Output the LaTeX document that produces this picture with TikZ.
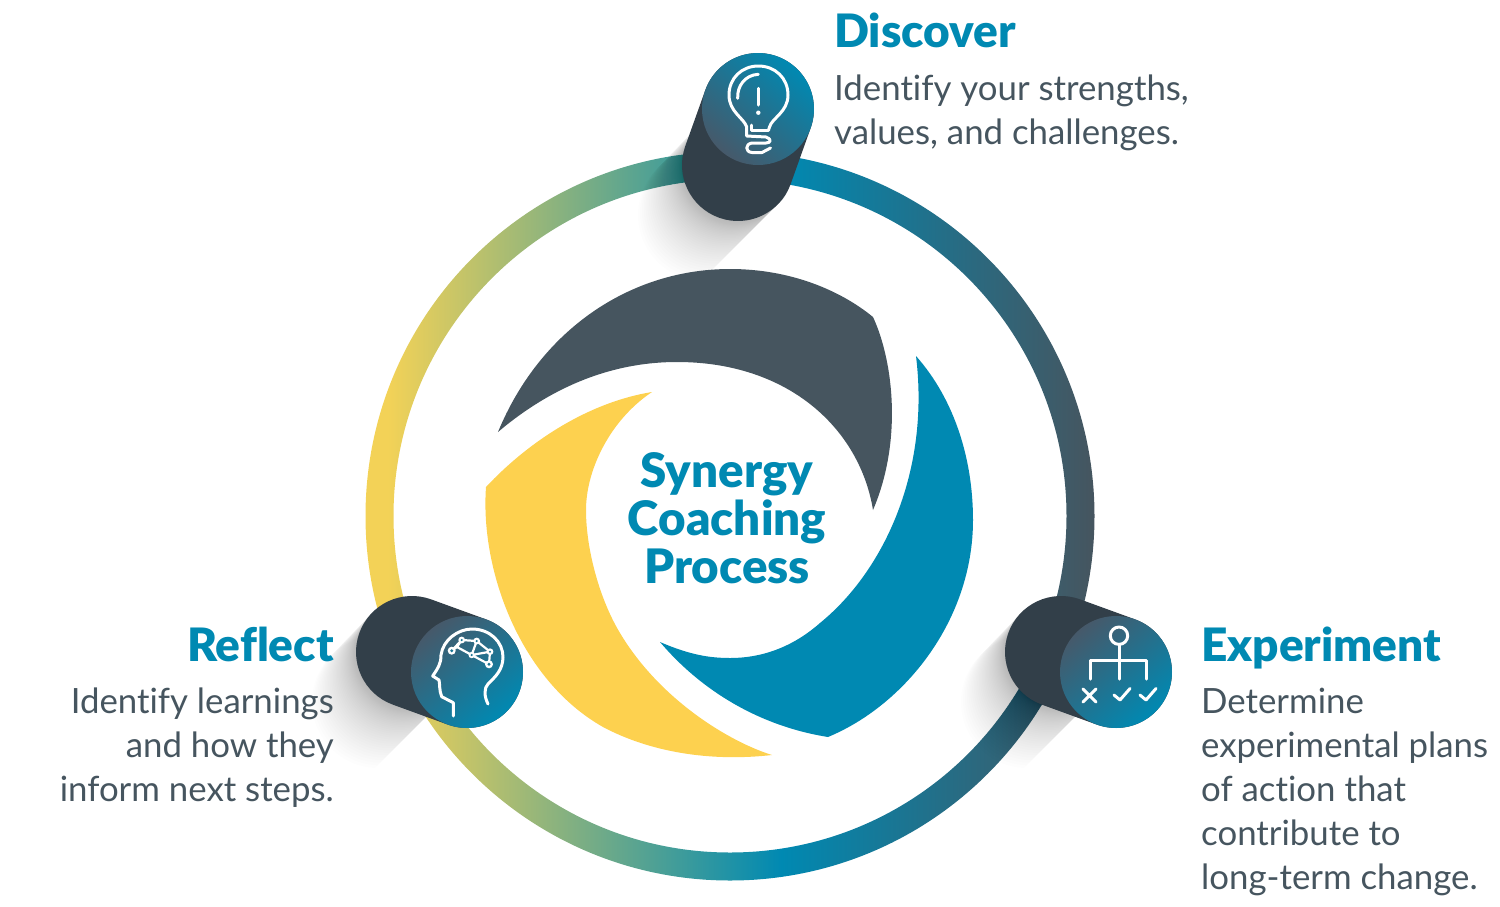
\documentclass[tikz,border=0pt]{standalone}
\usepackage{fontspec}
\setmainfont{Lato}[BoldFont={Lato Black},Ligatures={NoCommon}]
\definecolor{brandblue}{HTML}{0089B2}
\definecolor{slate}{HTML}{46555F}
\definecolor{cyl}{HTML}{323F49}
\definecolor{sunny}{HTML}{FDD14F}
\definecolor{ringyellow}{HTML}{F3D257}
\definecolor{discdark}{HTML}{46596A}
\pgfdeclarehorizontalshading{ringshade}{100bp}{color(0bp)=(ringyellow); color(26.5bp)=(ringyellow); color(53.5bp)=(brandblue); color(75bp)=(slate); color(100bp)=(slate)}
\newcommand\longshadow[2]{%
  \begin{scope}
  \clip ({#1+39.6+212},{#2+39.6-212}) -- ({#1+39.6-212},{#2+39.6+212}) -- ({#1-300},{#2-300}) -- cycle;
  \foreach \k in {1,...,40}{%
    \pgfmathsetmacro\ff{(\k/40)^1.8}%
    \fill[black,opacity=.0095] ({#1-34*\ff},{#2+50*\ff}) circle ({56+10*\ff});
  }
  \end{scope}}
\tikzset{
  cylbody/.style={draw=cyl,line cap=round,line width=112pt},
  icon/.style={draw=white,line width=3pt,line cap=round,line join=round},
  heading/.style={font=\fontsize{46}{46}\selectfont\bfseries,text=brandblue,inner sep=0pt},
  body/.style={font=\fontsize{34.8}{44}\selectfont,text=slate,inner sep=0pt},
}
\begin{document}
\begin{tikzpicture}[x=1pt,y=-1pt]
\useasboundingbox (0,0) rectangle (1500,906);
% ring
\shade[shading=ringshade,even odd rule] (730,516) circle (364.5) (730,516) circle (336.5);
% shadows
\longshadow{738}{165}
\longshadow{412}{652}
\longshadow{1061}{652}
% swirl
\fill[slate] (498,432) .. controls (540,330) and (630,269) .. (730,269)
  .. controls (790,269) and (840,290) .. (873,317)
  .. controls (893,360) and (903,440) .. (873,510)
  .. controls (860,430) and (790,362) .. (677,362)
  .. controls (610,362) and (550,388) .. (498,432) -- cycle;
\fill[sunny] (652,392) .. controls (590,402) and (530,440) .. (486,487)
  .. controls (480,570) and (520,680) .. (603,727)
  .. controls (650,752) and (710,762) .. (772,755)
  .. controls (730,742) and (660,700) .. (620,633)
  .. controls (600,600) and (586,550) .. (586,510)
  .. controls (586,470) and (610,420) .. (652,392) -- cycle;
\fill[brandblue] (916,356) .. controls (955,400) and (973,460) .. (973,520)
  .. controls (973,620) and (905,705) .. (828,737)
  .. controls (765,727) and (705,695) .. (660,642)
  .. controls (690,655) and (710,658) .. (730,658)
  .. controls (765,658) and (795,645) .. (820,623)
  .. controls (885,570) and (930,470) .. (916,356) -- cycle;
% cylinders
\draw[cylbody] (738,165) -- (758,109);
\draw[cylbody] (412,652) -- (467,672);
\draw[cylbody] (1061,652) -- (1116,672);
% discs
\shade[top color=brandblue,bottom color=discdark,shading angle=-40] (758,109) circle (56);
\shade[top color=discdark,bottom color=brandblue,shading angle=40] (467,672) circle (56);
\shade[top color=discdark,bottom color=brandblue,shading angle=40] (1116,672) circle (56);
% bulb icon
\draw[icon] (746.7,130) -- (746.7,127) .. controls (744,118) and (729,112) .. (729,95)
  .. controls (729,78) and (742,66) .. (758.3,66)
  .. controls (775,66) and (788,78) .. (788,95)
  .. controls (788,112) and (772,118) .. (769.5,127) -- (768.5,130);
\draw[icon] (751.7,125) -- (751.7,130) -- (768.5,130);
\draw[icon] (746.7,130) -- (746.7,136) -- (766,137)
  .. controls (772,139) and (771,143) .. (766,143) -- (752,143)
  .. controls (745,144) and (745,152) .. (752,152.5) -- (762,152.5) -- (770.5,148);
\draw[icon] (737.7,98.3) .. controls (737,86) and (745,75) .. (758.3,74.3);
\draw[icon] (758.3,88.3) -- (758.3,105);
\fill[white] (758.3,112.7) circle (2.2);
% brain icon
\draw[icon] (453.3,716) -- (453.3,702.7) -- (441.7,696.7)
  .. controls (439,690) and (440,684) .. (439,680) -- (432.7,676)
  .. controls (438,668) and (441,664) .. (441,655)
  .. controls (443,640) and (458,629) .. (472,629)
  .. controls (490,629) and (503,642) .. (503,657)
  .. controls (503,670) and (495,677) .. (488,684)
  .. controls (484,688) and (484,696) .. (488,704);
\coordinate (b1) at (451.7,650.7);
\coordinate (b2) at (461.7,640);
\coordinate (b3) at (476.7,641);
\coordinate (b4) at (490,651.7);
\coordinate (b5) at (489,664.3);
\coordinate (b6) at (471.7,655);
\coordinate (b7) at (457,647);
\draw[draw=white,line width=2.2pt] (b1) -- (b2) -- (b3) -- (b4) -- (b5) -- (b6) -- (b7) -- (b2)
  (b3) -- (b6) -- (b4) (b1) -- (b7);
\fill[white] (b1) circle (4) (b2) circle (3.4) (b3) circle (3.4) (b4) circle (3.4) (b5) circle (4) (b6) circle (3.2);
\fill[discdark!40!brandblue] (b1) circle (1.6) (b2) circle (1.2) (b3) circle (1.2) (b4) circle (1.2) (b5) circle (1.6) (b6) circle (1.2);
% chart icon
\draw[icon] (1119,635.7) circle (8.7);
\draw[icon] (1119,644.4) -- (1119,679);
\draw[icon] (1090.7,679) -- (1090.7,660) -- (1146.7,660) -- (1146.7,679);
\draw[icon] (1083,689) -- (1096,702) (1096,689) -- (1083,702);
\draw[icon] (1114,695) -- (1120,700) -- (1130,688.5);
\draw[icon] (1140,695) -- (1146,700) -- (1156,688.5);
% text
\node[heading,anchor=base west] (discoverhead) at (834,47) {Discover};
\node[body,anchor=north west,align=left] (discovertext) at (834,75) {Identify your strengths,\\values, and challenges.};
\node[heading,anchor=base east] (reflecthead) at (334,661) {Reflect};
\node[body,anchor=north east,align=right] (reflecttext) at (334,688) {Identify learnings\\and how they\\inform next steps.};
\node[heading,anchor=base west] (experimenthead) at (1201,661) {Experiment};
\node[body,anchor=north west,align=left] (experimenttext) at (1201,688) {Determine\\experimental plans\\of action that\\contribute to\\long-term change.};
\node[font=\fontsize{47.5}{48}\selectfont\bfseries,text=brandblue,inner sep=0pt,align=center,anchor=center] (centre) at (727,518) {Synergy\\Coaching\\Process};
\end{tikzpicture}
\end{document}
